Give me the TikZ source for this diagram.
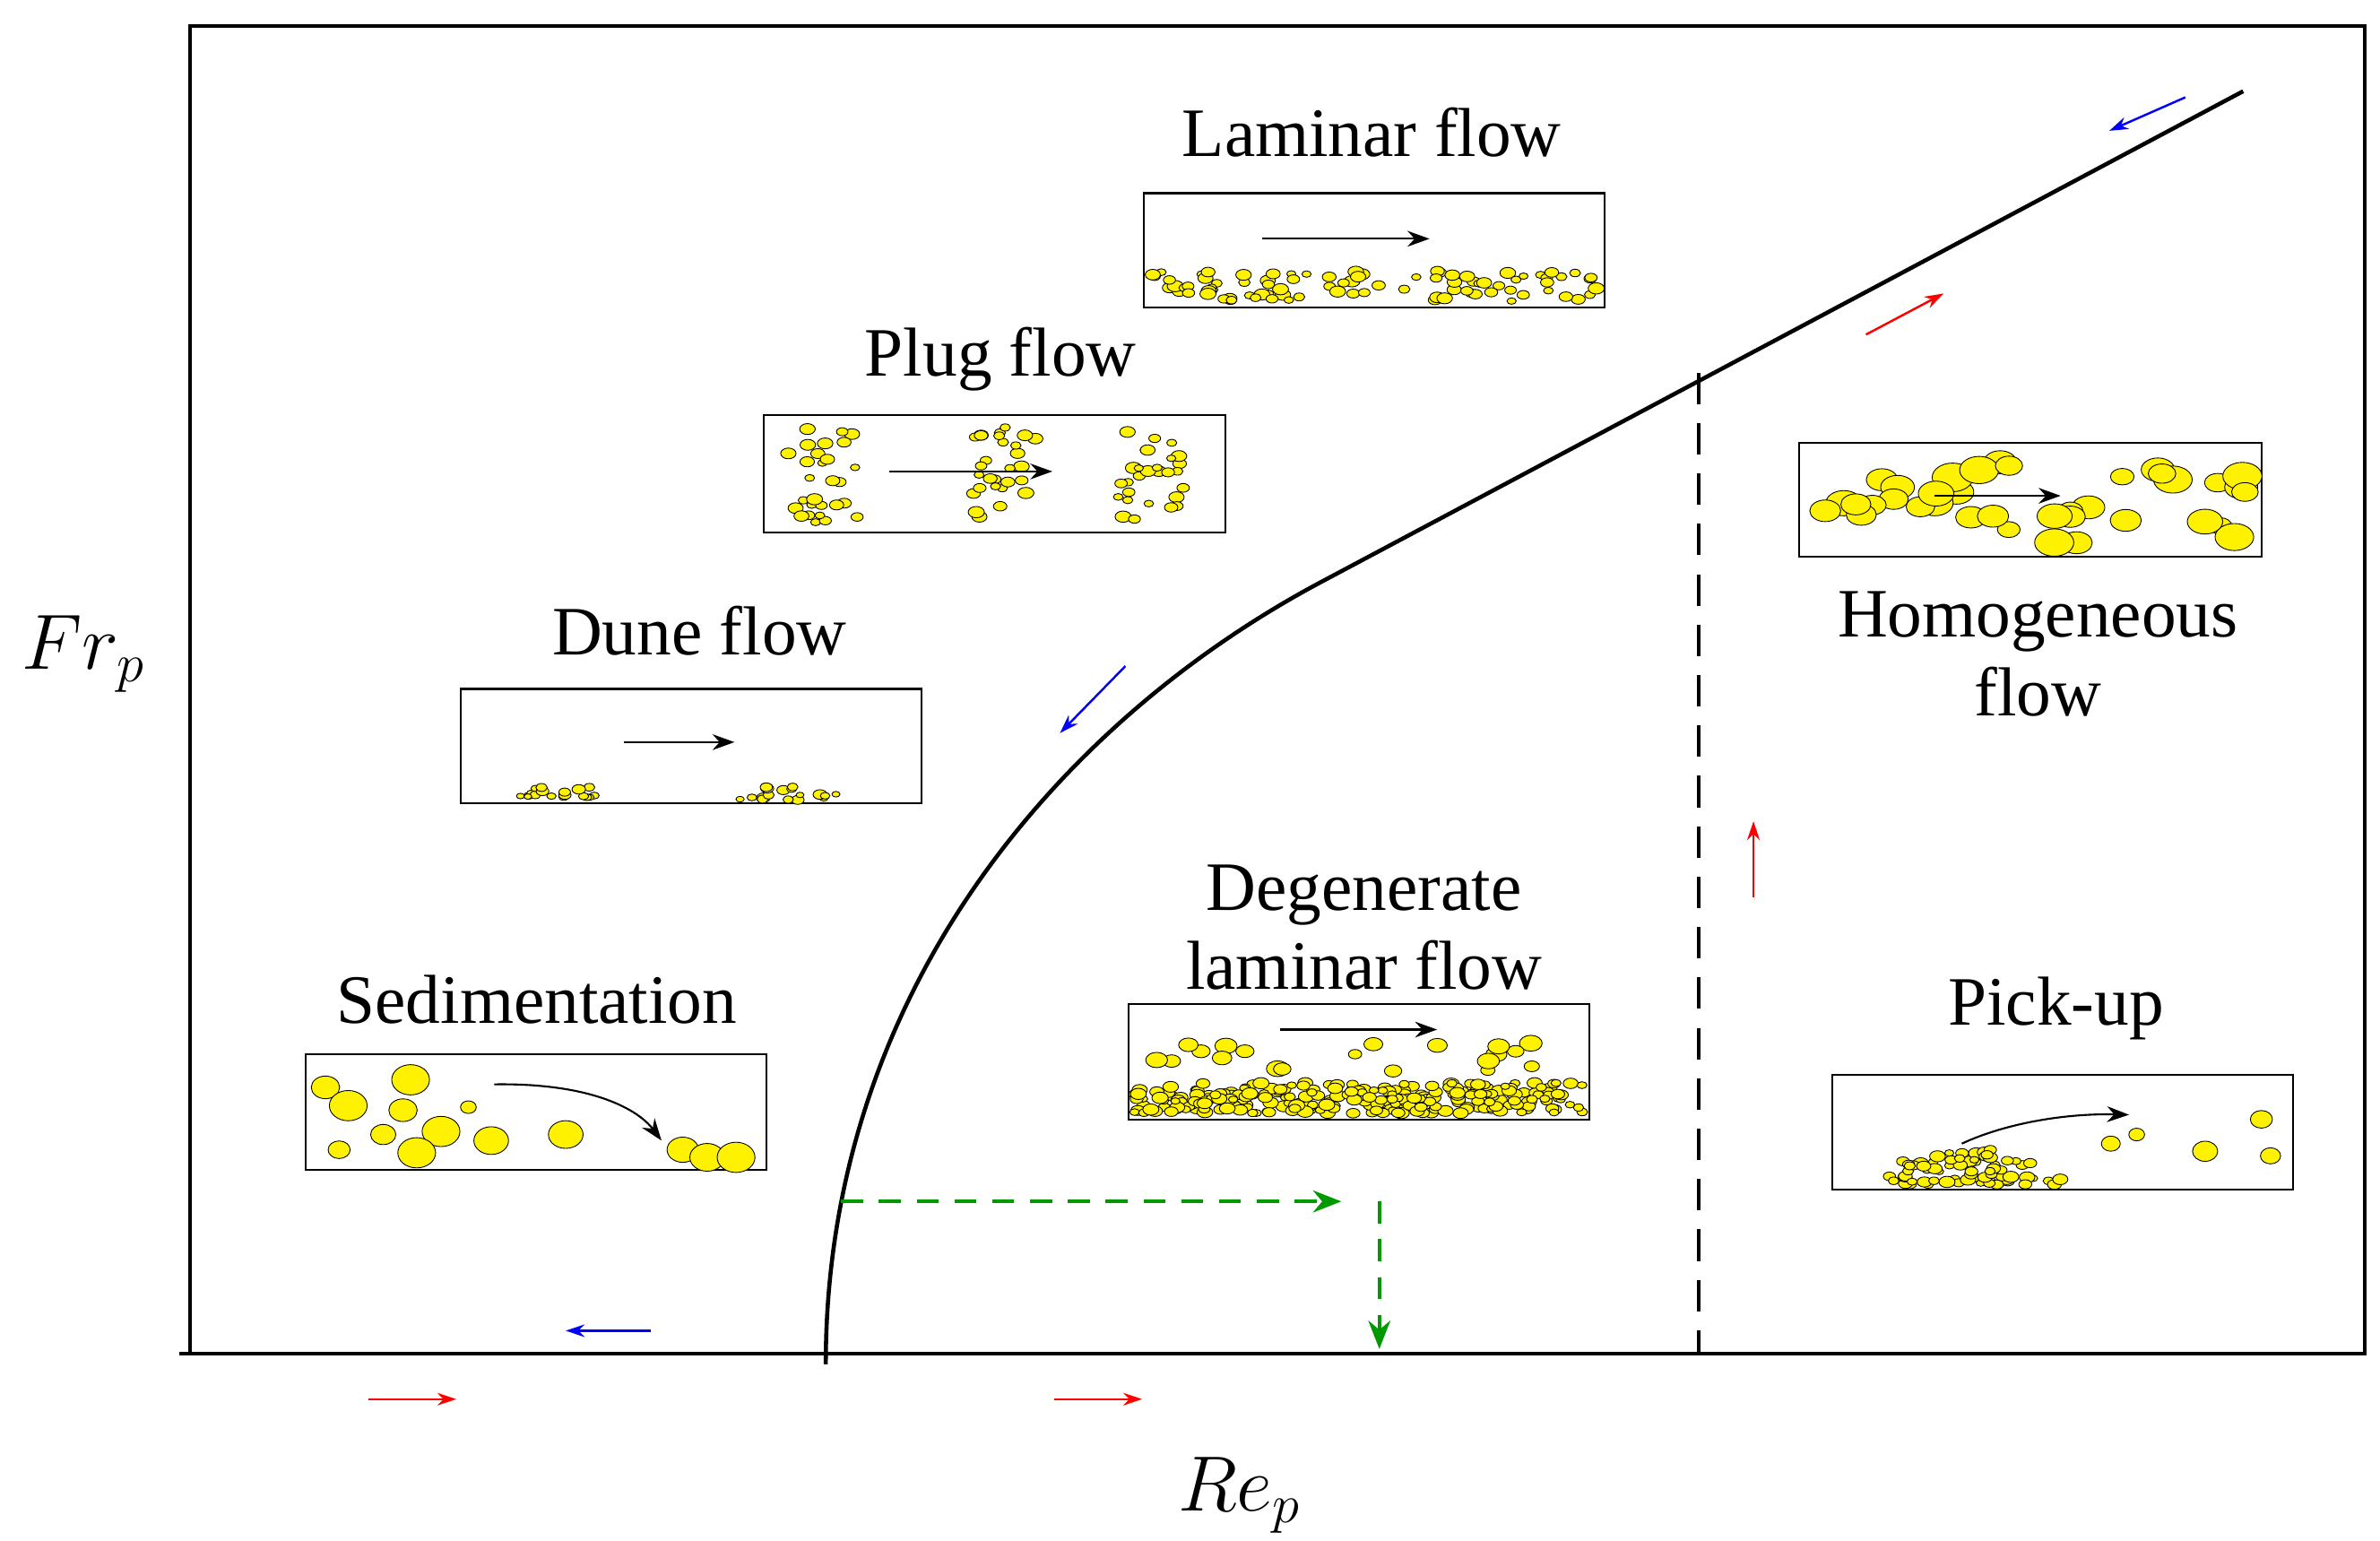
\documentclass[tikz,border=0pt]{standalone}
\usepackage{fontspec}
\setmainfont{Liberation Serif}
\usetikzlibrary{arrows.meta}
\tikzset{
  frame/.style={line width=1.3pt},
  box/.style={draw=black,line width=0.6pt},
  title/.style={font=\fontsize{22}{25}\selectfont,align=center},
  grain/.style={draw=black,fill=yellow,line width=0.25pt},
  flowarrow/.style={-{Stealth[length=7pt,width=5pt]},line width=0.6pt},
  redarrow/.style={-{Stealth[length=6pt,width=4pt]},red,line width=0.7pt},
  bluearrow/.style={-{Stealth[length=6pt,width=4pt]},blue,line width=0.7pt},
  greenarrow/.style={-{Stealth[length=9pt,width=7pt]},green!60!black,dashed,dash pattern=on 7pt off 5pt,line width=1.1pt}
}
% random grains in a region: x0,x1,y0,y1,count,max radius (pt)
\newcommand{\grains}[6]{%
  \foreach \k in {1,...,#5}{%
    \pgfmathsetmacro\gx{#1+rnd*(#2-#1)}%
    \pgfmathsetmacro\gy{#3+rnd*(#4-#3)}%
    \pgfmathsetmacro\gr{#6*(0.55+0.45*rnd)}%
    \draw[grain] (\gx,\gy) ellipse [x radius=\gr pt,y radius=0.7*\gr pt];
  }}
\begin{document}
\begin{tikzpicture}[x=0.01697cm,y=-0.01697cm]
\pgfmathsetseed{7}
\useasboundingbox (0,0) rectangle (1565,1013);
% axes frame
\draw[frame] (125,890) -- (125,17) -- (1555,17) -- (1555,890) -- (118,890);
\node[font=\fontsize{24}{26}\selectfont\itshape] (frlabel) at (55,430) {$Fr_p$};
\node[font=\fontsize{24}{26}\selectfont\itshape] (relabel) at (815,983) {$Re_p$};
% boundary curve
\draw[line width=1.3pt] (543,897) .. controls (543,650) and (700,472) .. (870,382) -- (1475,60);
\draw[line width=1.2pt,dash pattern=on 10pt off 6pt] (1117,245) -- (1117,890);
% green path
\coordinate (g1) at (553,790);
\coordinate (g2) at (882,790);
\coordinate (g3) at (907,790);
\coordinate (g4) at (907,887);
\draw[greenarrow] (g1) -- (g2);
\draw[greenarrow] (g3) -- (g4);
% small arrows
\draw[redarrow] (242,920) -- (300,920);
\draw[redarrow] (693,920) -- (751,920);
\draw[redarrow] (1153,590) -- (1153,540);
\draw[redarrow] (1227,220) -- (1278,193);
\draw[bluearrow] (428,875) -- (372,875);
\draw[bluearrow] (740,438) -- (697,482);
\draw[bluearrow] (1437,64) -- (1387,86);
% laminar flow
\node[title] (laminar) at (902,87) {Laminar flow};
\draw[box] (752,127) rectangle (1055,202);
\grains{758}{1050}{178}{198}{90}{2.6}
\draw[flowarrow] (830,157) -- (940,157);
% plug flow
\node[title] (plug) at (658,236) {Plug flow};
\draw[box] (502,273) rectangle (806,350);
\grains{518}{565}{280}{345}{28}{2.6}
\grains{638}{685}{280}{345}{28}{2.6}
\grains{735}{780}{280}{345}{28}{2.6}
\draw[flowarrow] (585,310) -- (692,310);
% dune flow
\node[title] (dune) at (460,415) {Dune flow};
\draw[box] (303,453) rectangle (606,528);
\grains{338}{402}{522}{526}{12}{2.2}
\grains{350}{390}{517}{521}{6}{2.2}
\grains{486}{550}{522}{526}{12}{2.2}
\grains{498}{538}{517}{521}{6}{2.2}
\draw[flowarrow] (410,488) -- (483,488);
% sedimentation
\node[title] (sediment) at (353,657) {Sedimentation};
\draw[box] (201,693) rectangle (504,769);
\foreach \gx/\gy/\gr in {214/715/4.5,229/727/6,270/710/6,265/730/4.5,252/746/4,290/744/6,308/728/2.5,323/750/5.5,274/758/6,223/756/3.5,372/746/5.5,449/756/5,465/761/5.5,484/761/6}
  \draw[grain] (\gx,\gy) ellipse [x radius=\gr pt,y radius=0.8*\gr pt];
\draw[flowarrow] (325,713) .. controls (390,712) and (420,730) .. (435,750);
% degenerate laminar flow
\node[title] (degen) at (897,610) {Degenerate\\laminar flow};
\draw[box] (742,660) rectangle (1045,736);
\grains{746}{1041}{712}{732}{260}{2.6}
\grains{760}{1030}{685}{705}{20}{3.8}
\draw[flowarrow] (842,677) -- (945,677);
% homogeneous flow
\node[title] (homog) at (1340,430) {Homogeneous\\flow};
\draw[box] (1183,291) rectangle (1487,366);
\grains{1192}{1480}{300}{358}{38}{6.5}
\draw[flowarrow] (1272,326) -- (1355,326);
% pick-up
\node[title] (pickup) at (1352,663) {Pick-up};
\draw[box] (1205,707) rectangle (1508,782);
\grains{1235}{1355}{772}{779}{35}{2.6}
\grains{1250}{1335}{763}{771}{25}{2.6}
\grains{1265}{1320}{756}{763}{12}{2.6}
\foreach \gx/\gy/\gr in {1388/752/3,1405/746/2.5,1450/757/4,1487/736/3.5,1493/760/3.2}
  \draw[grain] (\gx,\gy) ellipse [x radius=\gr pt,y radius=0.8*\gr pt];
\draw[flowarrow] (1290,752) .. controls (1320,738) and (1360,732) .. (1400,733);
\end{tikzpicture}
\end{document}
